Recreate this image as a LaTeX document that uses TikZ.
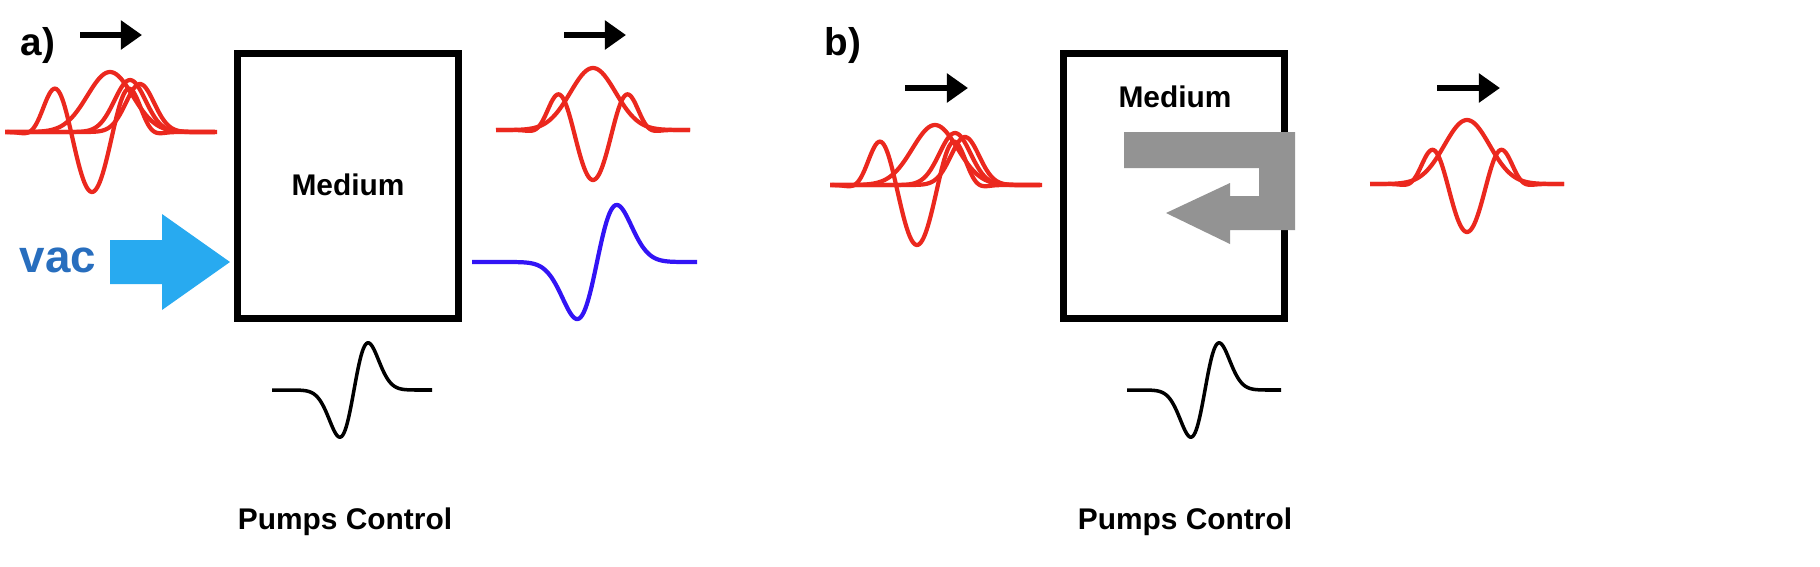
\documentclass[tikz,border=0pt]{standalone}
\usepackage{fontspec}
\setmainfont{Liberation Sans}
\usetikzlibrary{arrows.meta}
\begin{document}
\begin{tikzpicture}[x=0.01cm,y=-0.01cm,
  lbl/.style={font=\bfseries\fontsize{8.5}{10}\selectfont},
  panel/.style={font=\bfseries\fontsize{11}{13}\selectfont},
  medbox/.style={draw,line width=2pt,minimum width=2.2cm,minimum height=2.64cm,inner sep=0pt},
  red/.style={draw={rgb,255:red,235;green,40;blue,30},line width=1.2pt},
  dir/.style={-{Triangle[length=6pt,width=8pt]},line width=1.6pt}]
\useasboundingbox (0,0) rectangle (1820,566);
% panel labels
\node[panel] (pa) at (38,45) {a)};
\node[panel] (pb) at (843,45) {b)};
% ---- a)
\node[medbox] (boxa) at (348,186) {};
\node[lbl] (meda) at (348,185) {Medium};
\coordinate (da1) at (80,35); \coordinate (da2) at (142,35);
\draw[dir] (da1) -- (da2);
\coordinate (db1) at (564,35); \coordinate (db2) at (626,35);
\draw[dir] (db1) -- (db2);
% left pulses a
\draw[red] plot[domain=-105:105,samples=120] ({110+\x},{132-60*exp(-(\x/32)*(\x/32))});
\draw[red] plot[domain=-85:125,samples=150] ({92+\x},{132+60*exp(-(\x/52)^4)*cos(4.3*\x)});
\draw[red] plot[domain=-125:85,samples=120] ({130+\x},{132-52*exp(-(\x/22)*(\x/22))});
\draw[red] plot[domain=-135:75,samples=120] ({140+\x},{132-48*exp(-(\x/20)*(\x/20))});
% right pulses a
\draw[red] plot[domain=-97:97,samples=120] ({593+\x},{130-62*exp(-(\x/32)*(\x/32))});
\draw[red] plot[domain=-97:97,samples=150] ({593+\x},{130+50*exp(-(\x/48)^4)*cos(4.6*\x)});
% blue
\draw[draw={rgb,255:red,50;green,20;blue,245},line width=1.2pt] plot[domain=-125:100,samples=150] ({597+\x},{262-133*(\x/28)*exp(-(\x/28)*(\x/28))});
% vac arrow
\draw[draw=none,fill={rgb,255:red,40;green,170;blue,240}] (110,240) -- (162,240) -- (162,214) -- (230,262) -- (162,310) -- (162,284) -- (110,284) -- cycle;
\node[font=\bfseries\fontsize{13}{15}\selectfont,text={rgb,255:red,40;green,110;blue,190}] (vac) at (58,260) {vac};
% pump a
\draw[line width=1pt] plot[domain=-82:78,samples=150] ({354+\x},{390-110*(\x/20)*exp(-(\x/20)*(\x/20))});
\node[lbl] (pca) at (345,522) {Pumps Control};
% ---- b)
\node[medbox] (boxb) at (1174,186) {};
\node[lbl] (medb) at (1175,97) {Medium};
\fill[gray!85] (1124,132) -- (1295,132) -- (1295,230) -- (1230,230) -- (1230,244) -- (1166,213) -- (1230,183) -- (1230,196) -- (1259,196) -- (1259,168) -- (1124,168) -- cycle;
\coordinate (dc1) at (905,88); \coordinate (dc2) at (968,88);
\draw[dir] (dc1) -- (dc2);
\coordinate (dd1) at (1437,88); \coordinate (dd2) at (1500,88);
\draw[dir] (dd1) -- (dd2);
% left pulses b
\draw[red] plot[domain=-105:105,samples=120] ({935+\x},{185-60*exp(-(\x/32)*(\x/32))});
\draw[red] plot[domain=-85:125,samples=150] ({917+\x},{185+60*exp(-(\x/52)^4)*cos(4.3*\x)});
\draw[red] plot[domain=-125:85,samples=120] ({955+\x},{185-52*exp(-(\x/22)*(\x/22))});
\draw[red] plot[domain=-135:75,samples=120] ({965+\x},{185-48*exp(-(\x/20)*(\x/20))});
% right pulses b
\draw[red] plot[domain=-97:97,samples=120] ({1467+\x},{184-64*exp(-(\x/32)*(\x/32))});
\draw[red] plot[domain=-97:97,samples=150] ({1467+\x},{184+48*exp(-(\x/48)^4)*cos(4.6*\x)});
% pump b
\draw[line width=1pt] plot[domain=-78:76,samples=150] ({1205+\x},{390-110*(\x/20)*exp(-(\x/20)*(\x/20))});
\node[lbl] (pcb) at (1185,522) {Pumps Control};
\end{tikzpicture}
\end{document}
